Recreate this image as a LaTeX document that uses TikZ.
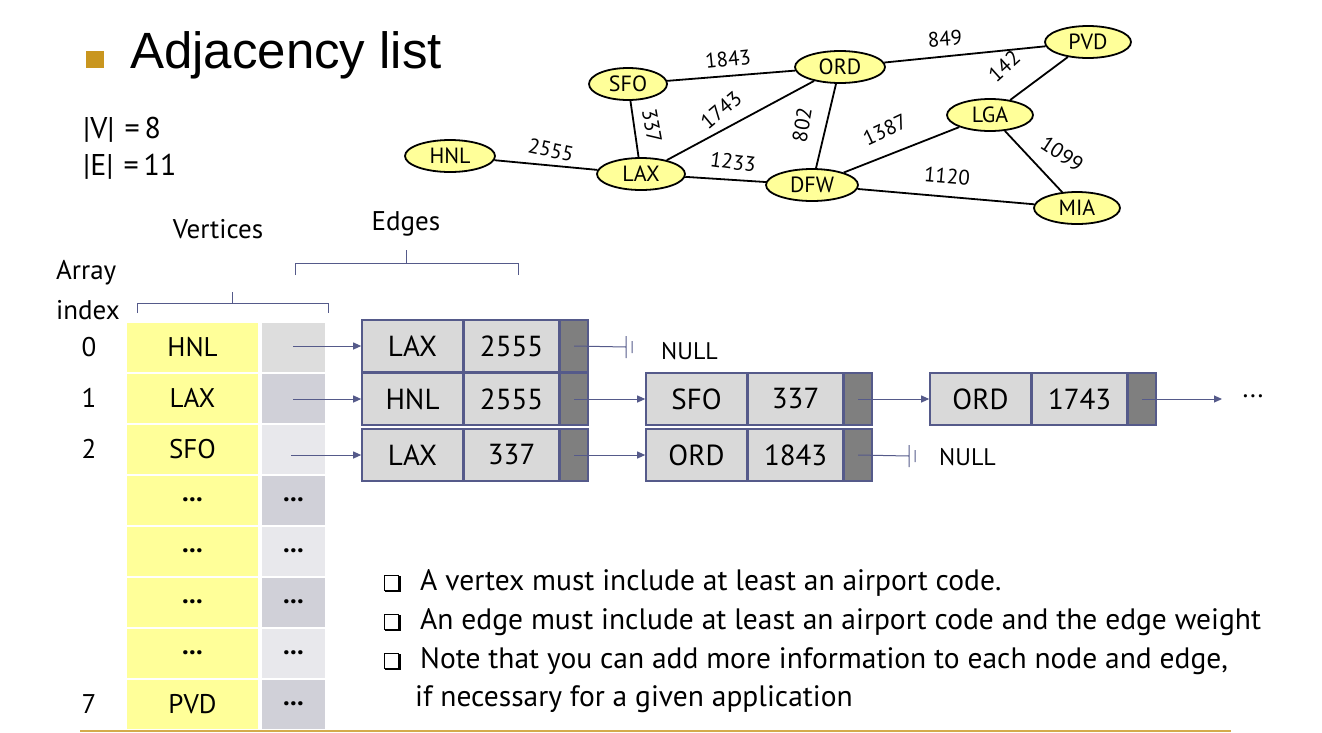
\documentclass[tikz,border=0pt]{standalone}
\usepackage{fontspec}
\setmainfont{PT Sans}
\newfontfamily\titlefont{Liberation Sans}
\usetikzlibrary{shapes.geometric,arrows.meta}
\definecolor{ylw}{HTML}{FFFF99}
\definecolor{gnode}{HTML}{FFFF99}
\definecolor{lnk}{HTML}{555A8A}
\definecolor{cellg}{HTML}{D9D9D9}
\definecolor{celld}{HTML}{7F7F7F}
\definecolor{gold}{HTML}{C9961F}
\definecolor{g1}{HTML}{DDDDDD}
\definecolor{g2}{HTML}{D0D0D8}
\definecolor{g3}{HTML}{E8E8EC}
\tikzset{
 gv/.style={ellipse,draw,line width=1.8pt,fill=gnode,minimum width=#1,minimum height=32pt,inner sep=0pt,font=\fontsize{22}{22}\selectfont},
 ge/.style={line width=1.8pt},
 wl/.style={font=\fontsize{21}{21}\selectfont,inner sep=0pt},
 cell/.style={draw=lnk,line width=1.6pt,fill=cellg,minimum height=52pt,inner sep=0pt,font=\fontsize{29}{29}\selectfont},
 dcell/.style={draw=lnk,line width=1.6pt,fill=celld,minimum width=28pt,minimum height=52pt,inner sep=0pt},
 lk/.style={draw=lnk,line width=1pt,-{Triangle[length=8pt,width=7pt]}},
 brace/.style={draw=lnk,line width=1pt},
 lbl/.style={font=\fontsize{27}{27}\selectfont,inner sep=0pt},
 vc/.style={fill=ylw,minimum width=131pt,minimum height=49pt,inner sep=0pt,font=\fontsize{27}{27}\selectfont},
 pc/.style={minimum width=63pt,minimum height=49pt,inner sep=0pt,font=\fontsize{27}{27}\selectfont},
 bt/.style={font=\fontsize{29.5}{29.5}\selectfont,inner sep=0pt,anchor=west},
}
\begin{document}
\begin{tikzpicture}[x=1pt,y=-1pt]
\useasboundingbox (0,0) rectangle (1322,732);
% title
\fill[gold] (86,51) rectangle (104,68);
\node[anchor=west,inner sep=0pt,font=\titlefont\fontsize{51}{51}\selectfont] (title) at (130,55) {Adjacency list};
\node[anchor=west,inner sep=0pt,font=\fontsize{30}{30}\selectfont] (nv) at (83,130) {|V|\,\,=\,8};
\node[anchor=west,inner sep=0pt,font=\fontsize{30}{30}\selectfont] (ne) at (83,167) {|E|\,\,=\,11};
% graph
\node[gv=90pt] (HNL) at (450,156) {HNL};
\node[gv=78pt] (SFO) at (628,84) {SFO};
\node[gv=90pt] (ORD) at (840,67) {ORD};
\node[gv=86pt] (PVD) at (1088,42) {PVD};
\node[gv=86pt] (LGA) at (990,115) {LGA};
\node[gv=88pt] (LAX) at (641,174) {LAX};
\node[gv=92pt] (DFW) at (812,185) {DFW};
\node[gv=86pt] (MIA) at (1077,208) {MIA};
\draw[ge] (HNL)--(LAX); \draw[ge] (SFO)--(LAX); \draw[ge] (SFO)--(ORD);
\draw[ge] (LAX)--(ORD); \draw[ge] (LAX)--(DFW); \draw[ge] (ORD)--(DFW);
\draw[ge] (ORD)--(PVD); \draw[ge] (PVD)--(LGA); \draw[ge] (LGA)--(DFW);
\draw[ge] (LGA)--(MIA); \draw[ge] (DFW)--(MIA);
\node[wl,rotate=-12] (w1) at (551,150) {2555};
\node[wl,rotate=-80] (w2) at (652,126) {337};
\node[wl,rotate=6] (w3) at (728,59) {1843};
\node[wl,rotate=40] (w4) at (721,110) {1743};
\node[wl,rotate=80] (w5) at (802,125) {802};
\node[wl,rotate=-8] (w6) at (733,162) {1233};
\node[wl,rotate=25] (w7) at (885,130) {1387};
\node[wl,rotate=4] (w8) at (945,39) {849};
\node[wl,rotate=42] (w9) at (1004,66) {142};
\node[wl,rotate=-33] (w10) at (1062,154) {1099};
\node[wl,rotate=-5] (w11) at (947,176) {1120};
% labels & braces
\node[lbl] (vt) at (218,229) {Vertices};
\node[lbl] (et) at (406,224) {Edges};
\node[lbl,anchor=west] (ai1) at (56,273) {Array};
\node[lbl,anchor=west] (ai2) at (56,310) {index};
\draw[brace] (295,275)--(295,263)--(518,263)--(518,275) (406,263)--(406,250);
\draw[brace] (137,313)--(137,303)--(328,303)--(328,313) (232,303)--(232,292);
% array
\foreach \i/\t/\p/\c in {0/HNL//g1,1/LAX//g2,2/SFO//g3,3/{\textbf{...}}/{\textbf{...}}/g2,4/{\textbf{...}}/{\textbf{...}}/g3,5/{\textbf{...}}/{\textbf{...}}/g2,6/{\textbf{...}}/{\textbf{...}}/g3,7/PVD/{\textbf{...}}/g2}{
  \node[vc] (v\i) at (192.5,347+51*\i) {\t};
  \node[pc,fill=\c] (p\i) at (293.5,347+51*\i) {\p};
}
\foreach \i/\n in {0/0,1/1,2/2,7/7}{\node[lbl] (ix\i) at (89,347+51*\i) {\n};}
% lists
\newcommand{\lnode}[5]{%
 \node[cell,minimum width=101pt] (#1a) at (#2+50.5,#3) {#4};
 \node[cell,minimum width=94pt,anchor=west] (#1b) at (#1a.east) {#5};
 \node[dcell,anchor=west] (#1c) at (#1b.east) {};}
\lnode{a}{362}{346}{LAX}{2555}
\lnode{b}{362}{399}{HNL}{2555}
\lnode{c}{362}{455}{LAX}{337}
\lnode{d}{646}{399}{SFO}{337}
\lnode{e}{646}{455}{ORD}{1843}
\lnode{f}{930}{399}{ORD}{1743}
\coordinate (s0) at (293,346); \coordinate (s1) at (293,399); \coordinate (s2) at (291,455);
\draw[lk] (s0)--(aa.west); \draw[lk] (s1)--(ba.west); \draw[lk] (s2)--(ca.west);
\draw[lk] (bc.center)--(da.west); \draw[lk] (cc.center)--(ea.west);
\draw[lk] (dc.center)--(fa.west);
\coordinate (fe) at (1222,399);
\draw[lk] (fc.center)--(fe);
\node[lbl] (dots) at (1253,396) {...};
% NULL grounds
\coordinate (n0) at (626,347); \coordinate (n1) at (909,456);
\draw[lnk,line width=1pt] (ac.center)--(n0) (626,336)--(626,358) (632,341)--(632,353);
\draw[lnk,line width=1pt] (ec.center)--(n1) (909,445)--(909,467) (915,450)--(915,462);
\node[font=\fontsize{24}{24}\selectfont,anchor=west,inner sep=0pt] (nl0) at (661,351) {NULL};
\node[font=\fontsize{24}{24}\selectfont,anchor=west,inner sep=0pt] (nl1) at (939,457) {NULL};
% bullets
\foreach \y/\t [count=\k] in {583/{A vertex must include at least an airport code.},622/{An edge must include at least an airport code and the edge weight},661/{Note that you can add more information to each node and edge,}}{
 \draw[line width=1pt] (384,\y-8)rectangle(398,\y+7); \draw[line width=2pt] (385,\y+8)--(400,\y+8)--(400,\y-7);
 \node[bt] (b\k) at (420,\y) {\t};}
\node[bt] (b4) at (415,699) {if necessary for a given application};
\draw[gold!80!white,line width=1.5pt] (80,731)--(1231,731);
\end{tikzpicture}
\end{document}
